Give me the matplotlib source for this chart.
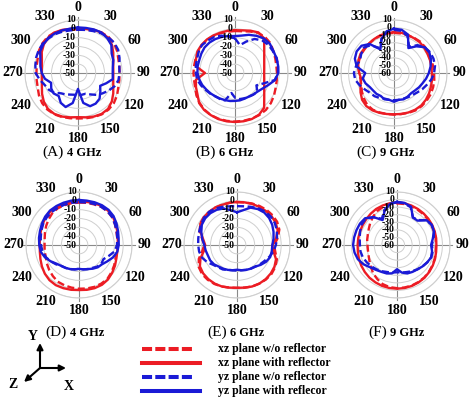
import numpy as np
import matplotlib
matplotlib.use("Agg")
import matplotlib.pyplot as plt
from matplotlib import transforms
from matplotlib.lines import Line2D
from matplotlib.patches import FancyArrowPatch

plt.rcParams['font.family'] = ['Liberation Serif', 'DejaVu Serif']

# angles of the samples (deg, clockwise from top)
angles = np.arange(0, 360, 10)
theta_labels = [str(a) for a in range(0, 360, 30)]

# (A) 4 GHz
a_xz_wo = [-1, 0, 1.5, 3, 3.5, 3, 1, -1.5, -2.5, -3, -2.5, -1.5, 1, 3, 4, 4, 3, 2,
           1.5, 2, 3, 4, 4, 3, 1, -1.5, -2.5, -3, -2.5, -1.5, 1, 2.5, 3.5, 3, 1.5, 0]
a_xz_w = [-0.2, 0.6, 2, 3, 2.5, 0, -3.9, -7.5, -9.5, -10, -9.5, -7.5, -3.9, 0, 3, 3.5, 2.5, 1,
          0, 1, 2.5, 3.5, 3, 0.5, -3, -6.5, -8.4, -9, -8.4, -6.5, -2.6, 0.5, 2.5, 3, 2, 0.6]
a_yz_wo = [-1, -0.5, 0.5, 2, 3, 3.5, 2.5, 0, -2.5, -3, -3.5, -6, -10, -14, -17.7, -22, -25, -25,
           -25, -25, -24, -22, -20, -15, -12, -10, -6, -2, -1, 0.5, 1.5, 2, 1.5, 1, 0, -1]
a_yz_w = [1.6, 1.8, 2.5, 3, 1.5, -0.7, -6, -7.5, -10, -10.7, -10, -16, -21, -17, -12, -10, -10, -15.6,
          -32, -15.5, -9, -11, -16, -14, -15, -17.6, -12, -9, -6.8, -4.7, -0.6, 1, 2, 2, 1.5, 1]

# (B) 6 GHz
b_xz_wo = [-2.5, -2, 0, 2.5, 3, 2.5, 0, -1.5, -2.5, -2.5, -2, -1, 1, 3, 4.5, 5, 5, 5,
           5, 5, 5, 5, 4, 2.5, 0.5, -2, -3, -3, -3, -2.5, -1.5, -1, -1, -1.5, -2, -2.5]
b_xz_w = [-1.6, -1, 1, 3, 1.3, -6.8, -11.8, -14.8, -16.4, -17, -16.4, -14.8, -11.8, -6.8, 1.3, 4.5, 5.5, 5.5,
          5.5, 5.5, 5.5, 5, 4.5, 3, -1, -3, -5, -16, -5, -3, -1, -0.5, -0.5, -1, -1.5, -1.5]
b_yz_wo = [-10.7, -18, -12, -5.5, -2, -0.5, -0.5, 0.2, -0.5, -1.5, -4.2, -15.6, -22, -17, -18, -19, -19.5, -20,
           -22, -27, -17, -16, -15.5, -13.5, -11.6, -9, -6.4, -5.7, -5, -4.2, -2.5, -1, -2, -3, -5, -8.5]
b_yz_w = [-8.2, -7, -4, -1.4, 1, 1.5, 0.2, -0.2, -0.5, -1, -4, -10, -14.4, -17, -18, -19, -19, -18.5,
          -18.4, -17.8, -17.3, -16.5, -15.4, -14, -12.5, -10.5, -8.8, -7.5, -7, -7, -6, -5, -5, -5.6, -6.5, -7.5]

# (C) 9 GHz
c_xz_wo = [-7, -7, -7, -6.5, -6, -6.5, -8, -8, -7.5, -7, -6, -5, -4, -3.5, -3, -3, -4, -5,
           -5, -5, -4.5, -4, -5, -8, -11, -14, -15, -14, -12, -11, -10, -10, -9, -8, -7.5, -7]
c_xz_w = [-6, -6, -6.5, -7, -7, -8, -9, -9.5, -10, -10, -9, -8, -6.5, -5, -4, -4, -4.5, -5,
          -5.5, -5, -4, -3, -3, -5, -9, -13, -16, -14, -12, -10, -9, -9, -9, -8, -7, -6.5]
c_yz_wo = [-3, -3.5, -8, -20, -12, -7, -5, -4.5, -5, -7, -10, -14, -17, -20, -22, -23, -24, -24,
           -24, -24, -24, -22, -20, -19, -16, -12, -8, -7, -9, -12, -10, -8, -12, -22, -12, -5]
c_yz_w = [-1.5, -2, -6, -22, -14, -7, -6, -8, -11, -14, -17, -20, -22, -24, -25, -24, -23, -24,
          -22, -24, -23, -25, -24, -24, -23, -20, -18, -22, -10, -5, -3, -4, -10, -24, -12, -4]

# (D) 4 GHz
d_xz_wo = [-2, -1.5, -1, 0, 0, -1, -3, -5, -6, -6.5, -6.5, -6, -4, -2, 0, 0.5, 0.5, 0,
           -0.5, -1, -1.5, -2, -4, -6, -8, -10, -10.5, -11, -10.5, -9, -7, -5, -3, -2, -2, -2]
d_xz_w = [-1, -0.5, 0.5, 1, 1, 0, -2, -4, -5.5, -6, -6, -5, -3, -1, 1, 2, 2, 1.5,
          1, 1.5, 2, 2.5, 2, 0.5, -1.5, -3.5, -5, -5.5, -5, -4, -2.5, -1, 0, 0, -0.5, -1]
d_yz_wo = [-1.5, -1, -0.5, 0, 0, -1, -3, -4.5, -6, -7, -9, -14, -18, -17, -18, -20, -21, -22,
           -23, -22, -21, -20, -19, -16, -13, -10, -8, -7, -6, -4.5, -3, -2, -1.5, -1.5, -1.5, -1.5]
d_yz_w = [1, 1, 1.5, 2, 2, 1, -1, -3, -4.5, -5, -6, -9, -13, -16, -17, -19, -21, -22,
          -23, -22, -21, -20, -19, -17, -13, -9, -6, -5, -4, -3, -1.5, 0, 1, 1, 1, 1]

# (E) 6 GHz
e_xz_wo = [-1.5, -1, 0, 1, 2, 2.5, 2.5, 1, -3, -8, -6, -2, 0, 1, 1, 0.5, 0, -1,
           -1.5, -1, 0, 1, 1.5, 1.5, 0, -4, -10, -13, -10, -5, -2, -1, -1, -1, -1.5, -1.5]
e_xz_w = [-1.3, -1, -0.5, 0, 0.5, 1, 0.5, -1, -5, -10, -8, -3, -1, 0, 0.5, 0.5, 0, -1,
          -1.5, -1, 0, 0.5, 0.5, 0, -1.5, -6, -12, -14, -11, -6, -2, -1, -1, -1, -1.5, -1.5]
e_yz_wo = [-6, -5.5, -4, -2, -0.5, 0, -0.5, -2, -4, -6, -8, -11, -14, -16, -18, -19, -20, -21,
           -21, -21, -20, -18, -17, -15, -11, -8, -6.5, -6, -5.5, -4.5, -3, -1.5, -1, -2, -4, -5.5]
e_yz_w = [-13, -10, -5, -3, -2, -2.5, -4, -6, -8, -10, -10, -10, -12, -15, -18, -19, -20, -21,
          -22, -21, -20, -19, -18, -16, -15, -15, -14, -13, -10, -7, -4, -3, -3, -4, -6, -10]

# (F) 9 GHz
f_xz_wo = [-5, -5, -5.5, -6, -6.5, -7, -7.5, -8, -8, -8.5, -8, -7, -6, -5, -4, -3.5, -3, -3,
           -3, -3.5, -5, -8, -11, -15, -18, -20, -21, -21, -20, -19, -17, -14, -11, -8, -6.5, -5.5]
f_xz_w = [-4, -4, -4.5, -5, -5.5, -6, -6.5, -7, -7.5, -8, -7.5, -6.5, -5.5, -4.5, -3.5, -3, -2.5, -2.3,
          -2.3, -2.3, -2.5, -3, -3.5, -4.5, -5.5, -6.5, -7.5, -8, -8, -8, -7.5, -7, -6, -5, -4.5, -4]
f_yz_wo = [-3.5, -4, -7, -18, -17, -9, -7, -8, -11, -14, -12, -12, -14, -16, -18, -20, -22, -23,
           -24, -23, -22, -20, -18, -16, -14, -12, -11, -11, -10, -8, -6, -6, -12, -20, -11, -5]
f_yz_w = [-3, -3.5, -6, -18, -18, -9, -7, -8, -12, -15, -13, -12, -14, -16, -18, -19, -20, -23,
          -28, -22, -20, -19, -17, -14, -9, -5, -3, -2, -2.5, -3, -3.5, -5, -12, -22, -12, -5]

panel_tags = ['(A)', '(B)', '(C)', '(D)', '(E)', '(F)']
panel_freqs = ['4 GHz', '6 GHz', '9 GHz', '4 GHz', '6 GHz', '9 GHz']
panel_rmin = [-50, -50, -60, -50, -50, -60]
legend_labels = ['xz plane w/o reflector', 'xz plane with reflector',
                 'yz plane w/o reflector', 'yz plane with reflecor']

panel_data = [
    [a_xz_wo, a_xz_w, a_yz_wo, a_yz_w],
    [b_xz_wo, b_xz_w, b_yz_wo, b_yz_w],
    [c_xz_wo, c_xz_w, c_yz_wo, c_yz_w],
    [d_xz_wo, d_xz_w, d_yz_wo, d_yz_w],
    [e_xz_wo, e_xz_w, e_yz_wo, e_yz_w],
    [f_xz_wo, f_xz_w, f_yz_wo, f_yz_w],
]

RED = '#ec1c24'
BLUE = '#1a1ad6'
styles = [(RED, (0, (3, 1.5))), (RED, '-'), (BLUE, (0, (3, 1.5))), (BLUE, '-')]

W, H = 474, 399
R = 53
centers = [(78, 73), (235, 73), (394, 73), (79, 245), (237, 245), (397, 245)]
caption_x = [64, 216, 377, 67, 227, 387]
caption_y = [156, 156, 156, 336, 336, 336]

fig = plt.figure(figsize=(W / 100, H / 100), dpi=100)


def fx(x):
    return x / W


def fy(y):
    return 1 - y / H


for i in range(6):
    cx, cy = centers[i]
    rmin = panel_rmin[i]
    ax = fig.add_axes([fx(cx - R), fy(cy + R), 2 * R / W, 2 * R / H], projection='polar')
    ax.set_theta_zero_location('N')
    ax.set_theta_direction(-1)
    ax.set_ylim(rmin, 10)
    rticks = np.arange(rmin, 11, 10)
    ax.set_yticks(rticks)
    ax.set_yticklabels([])
    ax.set_thetagrids(np.arange(0, 360, 30), theta_labels, fontsize=10, fontweight='bold')
    ax.tick_params(axis='x', pad=-1.5)
    ax.xaxis.grid(False)
    ax.yaxis.grid(True, color='#cfcfcf', lw=0.7)
    ax.spines['polar'].set_color('#cfcfcf')
    ax.spines['polar'].set_linewidth(0.8)

    # cross lines through the centre
    for t in [0, 90, 180, 270]:
        ax.plot([np.radians(t)] * 2, [rmin, 13], color='#8a8a8a', lw=0.8,
                clip_on=False, zorder=1)

    # radial labels to the left of the vertical line
    trans = transforms.offset_copy(ax.transData, fig=fig, x=-1.5, y=0, units='points')
    for v in rticks[::-1]:
        ax.text(0, v, str(v), transform=trans, ha='right', va='center',
                fontsize=7, fontweight='bold', zorder=6)

    th = np.radians(np.append(angles, angles[0]))
    for vals, (col, ls) in zip(panel_data[i], styles):
        r = np.append(vals, vals[0])
        ax.plot(th, r, color=col, linestyle=ls, lw=1.7, zorder=3)

    fig.text(fx(caption_x[i]), fy(caption_y[i]), panel_tags[i], ha='right', va='baseline',
             fontsize=11)
    fig.text(fx(caption_x[i] + 3), fy(caption_y[i]), panel_freqs[i], ha='left', va='baseline',
             fontsize=9, fontweight='bold')

# legend
leg_y = [349, 363, 377, 391]
for j, (col, ls) in enumerate(styles):
    x1 = 192 if j % 2 == 0 else 200
    dash = (0, (2.5, 0.8)) if ls != '-' else '-'
    fig.add_artist(Line2D([fx(142), fx(x1)], [fy(leg_y[j]), fy(leg_y[j])],
                          transform=fig.transFigure, color=col, lw=2.9, linestyle=dash))
    fig.text(fx(218), fy(leg_y[j]), legend_labels[j], ha='left', va='center',
             fontsize=8.5, fontweight='bold')

# coordinate system sketch
origin = (40, 368)
tips = {'Y': (40, 343), 'X': (66, 368), 'Z': (24, 382)}
label_pos = {'Y': (33, 337), 'X': (69, 386), 'Z': (13, 385)}
for k, tip in tips.items():
    arr = FancyArrowPatch((fx(origin[0]), fy(origin[1])), (fx(tip[0]), fy(tip[1])),
                          transform=fig.transFigure, arrowstyle='-|>', mutation_scale=9,
                          lw=1.5, color='black', shrinkA=0, shrinkB=0)
    fig.add_artist(arr)
    fig.text(fx(label_pos[k][0]), fy(label_pos[k][1]), k, ha='center', va='center',
             fontsize=10, fontweight='bold')

fig.savefig('out.png', dpi=100)
